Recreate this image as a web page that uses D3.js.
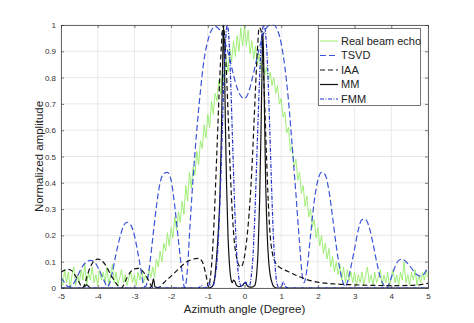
<!DOCTYPE html>
<html><head><meta charset="utf-8">
<script src="https://cdn.jsdelivr.net/npm/d3@7"></script>
<style>body{margin:0;background:#fff}svg{display:block;font-family:"Liberation Sans",Arial,sans-serif}</style>
</head><body>
<svg id="c" width="474" height="323"></svg>
<script>
const xTicks = [-5,-4,-3,-2,-1,0,1,2,3,4,5];
const xTickLabels = ["-5","-4","-3","-2","-1","0","1","2","3","4","5"];
const yTicks = [0,0.1,0.2,0.3,0.4,0.5,0.6,0.7,0.8,0.9,1];
const yTickLabels = ["0","0.1","0.2","0.3","0.4","0.5","0.6","0.7","0.8","0.9","1"];
const seriesNames = ["Real beam echo","TSVD","IAA","MM","FMM"];

// Real beam echo sampled every 0.05 degree from -5 to 5
const echoAngles = d3.range(0, 201).map(i => -5 + i * 0.05);
const echo = [0.04,0.01,0.07,0.02,0.06,0.00,0.05,0.08,0.01,0.05,0.02,0.07,0.03,0.09,0.01,0.06,0.03,0.08,0.02,0.05,
0.01,0.07,0.03,0.06,0.02,0.08,0.01,0.05,0.09,0.02,0.06,0.01,0.04,0.07,0.02,0.05,0.01,0.04,0.06,0.02,
0.05,0.01,0.06,0.03,0.07,0.02,0.05,0.03,0.07,0.04,0.08,0.04,0.11,0.08,0.14,0.10,0.17,0.14,0.21,0.16,
0.23,0.19,0.27,0.22,0.29,0.25,0.33,0.28,0.39,0.33,0.44,0.38,0.46,0.43,0.52,0.47,0.56,0.53,0.62,0.57,
0.66,0.61,0.71,0.66,0.74,0.71,0.79,0.74,0.83,0.78,0.87,0.82,0.91,0.86,0.94,0.88,0.96,0.90,0.99,0.92,
1.00,0.92,0.98,0.89,0.94,0.87,0.92,0.85,0.89,0.83,0.87,0.81,0.84,0.79,0.82,0.77,0.80,0.74,0.77,0.70,
0.72,0.65,0.67,0.59,0.61,0.52,0.54,0.46,0.49,0.41,0.44,0.36,0.39,0.31,0.35,0.27,0.30,0.23,0.26,0.19,
0.23,0.16,0.20,0.13,0.17,0.11,0.15,0.08,0.12,0.06,0.10,0.05,0.09,0.03,0.08,0.02,0.07,0.03,0.06,0.02,
0.06,0.01,0.05,0.02,0.06,0.01,0.05,0.08,0.02,0.05,0.01,0.06,0.02,0.04,0.07,0.01,0.05,0.02,0.06,0.01,
0.04,0.07,0.02,0.05,0.01,0.06,0.03,0.10,0.02,0.05,0.01,0.06,0.03,0.07,0.01,0.05,0.02,0.06,0.03,0.07,
0.04];

const tsvd = [[-5,0.04],[-4.9,0.02],[-4.8,0.005],[-4.7,0.01],[-4.6,0.03],[-4.5,0.06],[-4.4,0.085],[-4.3,0.1],[-4.2,0.105],[-4.1,0.1],[-4.0,0.08],[-3.9,0.05],[-3.8,0.02],[-3.75,0.005],[-3.7,0.01],[-3.6,0.06],[-3.5,0.13],[-3.4,0.19],[-3.3,0.235],[-3.2,0.25],[-3.1,0.24],[-3.0,0.2],[-2.9,0.13],[-2.8,0.05],[-2.75,0.01],[-2.7,0.005],[-2.6,0.07],[-2.5,0.19],[-2.4,0.31],[-2.3,0.4],[-2.2,0.435],[-2.1,0.44],[-2.0,0.41],[-1.9,0.31],[-1.8,0.18],[-1.7,0.06],[-1.63,0.0],[-1.55,0.08],[-1.5,0.2],[-1.4,0.42],[-1.3,0.6],[-1.2,0.75],[-1.1,0.87],[-1.0,0.94],[-0.9,0.98],[-0.8,0.995],[-0.7,0.985],[-0.6,0.96],[-0.5,0.92],[-0.4,0.87],[-0.3,0.81],[-0.2,0.76],[-0.1,0.73],[0,0.72],[0.1,0.74],[0.2,0.79],[0.3,0.85],[0.4,0.91],[0.5,0.96],[0.6,0.99],[0.7,1.0],[0.8,1.0],[0.9,0.98],[1.0,0.93],[1.1,0.84],[1.2,0.71],[1.3,0.54],[1.4,0.36],[1.5,0.17],[1.58,0.04],[1.62,0.02],[1.7,0.07],[1.8,0.2],[1.9,0.33],[2.0,0.41],[2.1,0.44],[2.2,0.43],[2.3,0.37],[2.4,0.27],[2.5,0.16],[2.6,0.07],[2.7,0.015],[2.75,0.005],[2.8,0.02],[2.9,0.08],[3.0,0.15],[3.1,0.22],[3.2,0.26],[3.3,0.26],[3.4,0.23],[3.5,0.17],[3.6,0.1],[3.7,0.04],[3.8,0.01],[3.87,0.0],[3.95,0.02],[4.0,0.04],[4.1,0.08],[4.2,0.105],[4.3,0.11],[4.4,0.1],[4.5,0.085],[4.6,0.065],[4.7,0.05],[4.8,0.045],[4.9,0.055],[5.0,0.08]];

const iaa = [[-5,0.06],[-4.9,0.068],[-4.8,0.071],[-4.7,0.065],[-4.6,0.045],[-4.5,0.02],[-4.42,0.0],[-4.35,0.015],[-4.3,0.04],[-4.2,0.08],[-4.1,0.103],[-4.0,0.11],[-3.9,0.105],[-3.8,0.09],[-3.7,0.065],[-3.6,0.04],[-3.5,0.018],[-3.4,0.003],[-3.35,0.0],[-3.3,0.01],[-3.2,0.04],[-3.1,0.062],[-3.0,0.073],[-2.9,0.075],[-2.8,0.068],[-2.7,0.05],[-2.6,0.025],[-2.52,0.005],[-2.45,0.0],[-2.3,0.005],[-2.2,0.02],[-2.0,0.045],[-1.8,0.072],[-1.6,0.097],[-1.4,0.11],[-1.25,0.113],[-1.15,0.1],[-1.05,0.05],[-0.98,0.005],[-0.93,0.04],[-0.88,0.12],[-0.83,0.25],[-0.78,0.42],[-0.73,0.6],[-0.68,0.78],[-0.63,0.92],[-0.58,1.0],[-0.53,0.93],[-0.48,0.78],[-0.43,0.6],[-0.38,0.42],[-0.33,0.28],[-0.28,0.18],[-0.22,0.12],[-0.15,0.085],[-0.1,0.08],[-0.05,0.09],[0.0,0.12],[0.05,0.17],[0.1,0.24],[0.15,0.33],[0.2,0.45],[0.25,0.6],[0.3,0.76],[0.35,0.9],[0.4,0.99],[0.45,0.98],[0.5,0.87],[0.55,0.7],[0.6,0.5],[0.65,0.32],[0.7,0.2],[0.75,0.14],[0.85,0.095],[1.0,0.075],[1.15,0.065],[1.3,0.055],[1.5,0.043],[1.7,0.032],[2.0,0.022],[2.5,0.015],[3.0,0.012],[3.5,0.01],[4.0,0.009],[4.5,0.01],[4.8,0.013],[5.0,0.018]];

const mm = [[-5,0],[-4.4,0],[-4.3,0.012],[-4.2,0],[-2.6,0],[-2.52,0.01],[-2.48,0.035],[-2.44,0.005],[-2.3,0],[-1.0,0],[-0.9,0.003],[-0.82,0.03],[-0.77,0.1],[-0.72,0.2],[-0.67,0.35],[-0.63,0.58],[-0.6,0.82],[-0.57,1.0],[-0.55,0.88],[-0.52,0.62],[-0.49,0.4],[-0.45,0.2],[-0.41,0.09],[-0.37,0.035],[-0.33,0.02],[-0.3,0.03],[-0.26,0.025],[-0.22,0.01],[-0.15,0.005],[-0.05,0.01],[0.0,0.02],[0.05,0.015],[0.1,0.005],[0.2,0.003],[0.28,0.01],[0.33,0.05],[0.37,0.14],[0.41,0.32],[0.45,0.6],[0.48,0.85],[0.5,0.97],[0.52,0.88],[0.55,0.62],[0.58,0.38],[0.62,0.2],[0.66,0.1],[0.7,0.05],[0.75,0.02],[0.8,0.005],[0.9,0],[5,0]];

const fmm = [[-5,0],[-1.25,0],[-1.17,0.01],[-1.1,0],[-1.02,0.005],[-0.97,0.02],[-0.92,0.005],[-0.85,0.01],[-0.8,0.04],[-0.75,0.1],[-0.7,0.22],[-0.65,0.4],[-0.6,0.62],[-0.55,0.84],[-0.5,0.97],[-0.47,1.0],[-0.43,0.96],[-0.38,0.8],[-0.33,0.58],[-0.28,0.36],[-0.23,0.18],[-0.18,0.07],[-0.13,0.02],[-0.08,0.005],[-0.02,0.015],[0.04,0.022],[0.09,0.01],[0.14,0.01],[0.18,0.04],[0.23,0.12],[0.28,0.27],[0.33,0.47],[0.38,0.68],[0.43,0.86],[0.48,0.97],[0.53,1.0],[0.58,0.96],[0.63,0.84],[0.68,0.64],[0.73,0.42],[0.78,0.22],[0.83,0.09],[0.88,0.02],[0.93,0.003],[1.0,0.005],[1.06,0.022],[1.12,0.005],[1.2,0],[5,0]];

const W = 474, H = 323;
const m = {l:61, r:46, t:25, b:35};
const svg = d3.select("#c");
const x = d3.scaleLinear().domain([-5,5]).range([m.l, W - m.r]);
const y = d3.scaleLinear().domain([0,1]).range([H - m.b, m.t]);

// grid
const grid = svg.append("g").attr("stroke","#e3e3e3").attr("stroke-width",0.8);
xTicks.forEach(t => grid.append("line").attr("x1",x(t)).attr("x2",x(t)).attr("y1",y(0)).attr("y2",y(1)));
yTicks.forEach(t => grid.append("line").attr("x1",x(-5)).attr("x2",x(5)).attr("y1",y(t)).attr("y2",y(t)));

svg.append("defs").append("clipPath").attr("id","clip").append("rect")
  .attr("x",x(-5)).attr("y",y(1)-0.5).attr("width",x(5)-x(-5)).attr("height",y(0)-y(1)+1);

const plot = svg.append("g").attr("clip-path","url(#clip)");
const smooth = d3.line().x(d=>x(d[0])).y(d=>y(d[1])).curve(d3.curveMonotoneX);
const lin = d3.line().x((d,i)=>x(echoAngles[i])).y(d=>y(d));

const styles = [
  {color:"#96ec6a", dash:null, w:0.9},
  {color:"#3b53d6", dash:"6,3", w:1.2},
  {color:"#111111", dash:"5,3", w:1.2},
  {color:"#111111", dash:null, w:1.2},
  {color:"#1f2fc8", dash:"4,1.5,1,1.5", w:1.2}
];

plot.append("path").attr("d", lin(echo)).attr("fill","none").attr("stroke",styles[0].color).attr("stroke-width",styles[0].w);
[tsvd, iaa, mm, fmm].forEach((s,k) => {
  const st = styles[k+1];
  plot.append("path").attr("d", smooth(s)).attr("fill","none")
    .attr("stroke",st.color).attr("stroke-width",st.w)
    .attr("stroke-dasharray",st.dash);
});

// axes
const xa = svg.append("g").attr("transform",`translate(0,${y(0)})`)
  .call(d3.axisBottom(x).tickValues(xTicks).tickFormat((d,i)=>xTickLabels[i]).tickSize(-3).tickPadding(5));
const xt = svg.append("g").attr("transform",`translate(0,${y(1)})`)
  .call(d3.axisTop(x).tickValues(xTicks).tickFormat("").tickSize(-3));
const ya = svg.append("g").attr("transform",`translate(${x(-5)},0)`)
  .call(d3.axisLeft(y).tickValues(yTicks).tickFormat((d,i)=>yTickLabels[i]).tickSize(-3).tickPadding(5));
const yr = svg.append("g").attr("transform",`translate(${x(5)},0)`)
  .call(d3.axisRight(y).tickValues(yTicks).tickFormat("").tickSize(-3));
[xa,xt,ya,yr].forEach(g => {
  g.selectAll(".domain").attr("stroke","#444").attr("stroke-width",0.8);
  g.selectAll(".tick line").attr("stroke","#444").attr("stroke-width",0.7);
  g.selectAll("text").attr("fill","#333").style("font-size","8px").style("font-family","'Liberation Sans',Arial,sans-serif");
});

svg.append("text").attr("x",(x(-5)+x(5))/2).attr("y",313).attr("text-anchor","middle")
  .attr("fill","#222").style("font-size","11.5px").text("Azimuth angle (Degree)");
svg.append("text").attr("transform",`translate(43,${(y(0)+y(1))/2}) rotate(-90)`).attr("text-anchor","middle")
  .attr("fill","#222").style("font-size","11.5px").text("Normalized amplitude");

// legend
const lg = svg.append("g");
lg.append("rect").attr("x",318.5).attr("y",28.5).attr("width",102).attr("height",77)
  .attr("fill","#fff").attr("stroke","#555").attr("stroke-width",0.8);
seriesNames.forEach((n,i) => {
  const yy = 41 + i*14.5;
  const st = styles[i];
  lg.append("line").attr("x1",320).attr("x2",338).attr("y1",yy).attr("y2",yy)
    .attr("stroke",st.color).attr("stroke-width",st.w).attr("stroke-dasharray",st.dash);
  lg.append("text").attr("x",341).attr("y",yy).attr("dy","0.35em").attr("fill","#222")
    .style("font-size","11px").text(n);
});
</script>
</body></html>
